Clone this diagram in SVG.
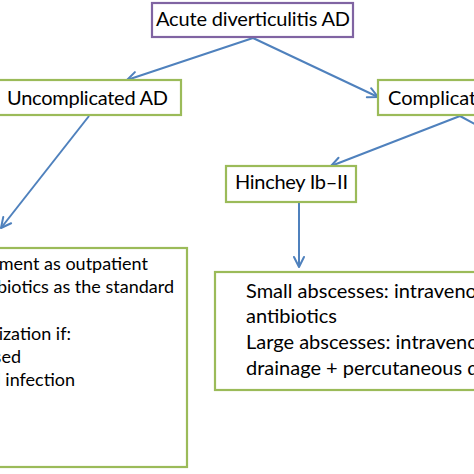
<svg xmlns="http://www.w3.org/2000/svg" width="474" height="474" viewBox="0 0 474 474">
<defs>
<style>
.bg{fill:#ffffff}
.g{fill:#ffffff;stroke:#9bbb59;stroke-width:2.2}
.p{fill:#ffffff;stroke:#8064a2;stroke-width:2.2}
.c{fill:none;stroke:#4f81bd;stroke-width:2;marker-end:url(#ah)}
.t{font-family:Lato,"Open Sans","Liberation Sans",sans-serif;fill:#000000}
.l{font-size:20px}
.s{font-size:18px}
.r{font-size:20px}
</style>
<marker id="ah" markerUnits="userSpaceOnUse" markerWidth="14" markerHeight="14" viewBox="0 0 14 14" refX="12" refY="7" orient="auto">
<path d="M2,2 L12,7 L2,12" fill="none" stroke="#4f81bd" stroke-width="2" stroke-linecap="round" stroke-linejoin="round"/>
</marker>
</defs>
<rect class="bg" x="0" y="0" width="474" height="474"/>
<g id="connectors">
<line class="c" x1="253" y1="38" x2="127" y2="80"/>
<line class="c" x1="253" y1="38" x2="378" y2="97"/>
<line class="c" x1="460" y1="116" x2="331" y2="166"/>
<line class="c" x1="460" y1="116" x2="480" y2="127" style="marker-end:none"/>
<line class="c" x1="89" y1="116" x2="1" y2="228"/>
<line class="c" x1="299" y1="202" x2="299" y2="267"/>
</g>
<g id="n-acute">
<rect class="p" x="152" y="3" width="201" height="34"/>
<text class="t l" x="253" y="26" text-anchor="middle" textLength="194">Acute diverticulitis AD</text>
</g>
<g id="n-uncomplicated">
<rect class="g" x="-2" y="80" width="183" height="35"/>
<text class="t l" x="7" y="105" textLength="161">Uncomplicated AD</text>
</g>
<g id="n-complicated">
<rect class="g" x="378" y="80" width="110" height="35"/>
<text class="t l" x="388" y="105">Complicat</text>
</g>
<g id="n-hinchey">
<rect class="g" x="226" y="166" width="130" height="36"/>
<text class="t l" x="235" y="189" textLength="113">Hinchey Ib–II</text>
</g>
<g id="n-outpatient">
<rect class="g" x="-3" y="248" width="190" height="219"/>
<text class="t s" x="148" y="270" text-anchor="end">ment as outpatient</text>
<text class="t s" x="174" y="293" text-anchor="end">biotics as the standard</text>
<text class="t s" x="71" y="340" text-anchor="end">ization if:</text>
<text class="t s" x="21" y="363" text-anchor="end">sed</text>
<text class="t s" x="75" y="386" text-anchor="end">l infection</text>
</g>
<g id="n-abscesses">
<rect class="g" x="215" y="272" width="270" height="118"/>
<text class="t r" x="246" y="298">Small abscesses: intraveno</text>
<text class="t r" x="246" y="323">antibiotics</text>
<text class="t r" x="246" y="349">Large abscesses: intraveno</text>
<text class="t r" x="246" y="375">drainage + percutaneous d</text>
</g>
</svg>
